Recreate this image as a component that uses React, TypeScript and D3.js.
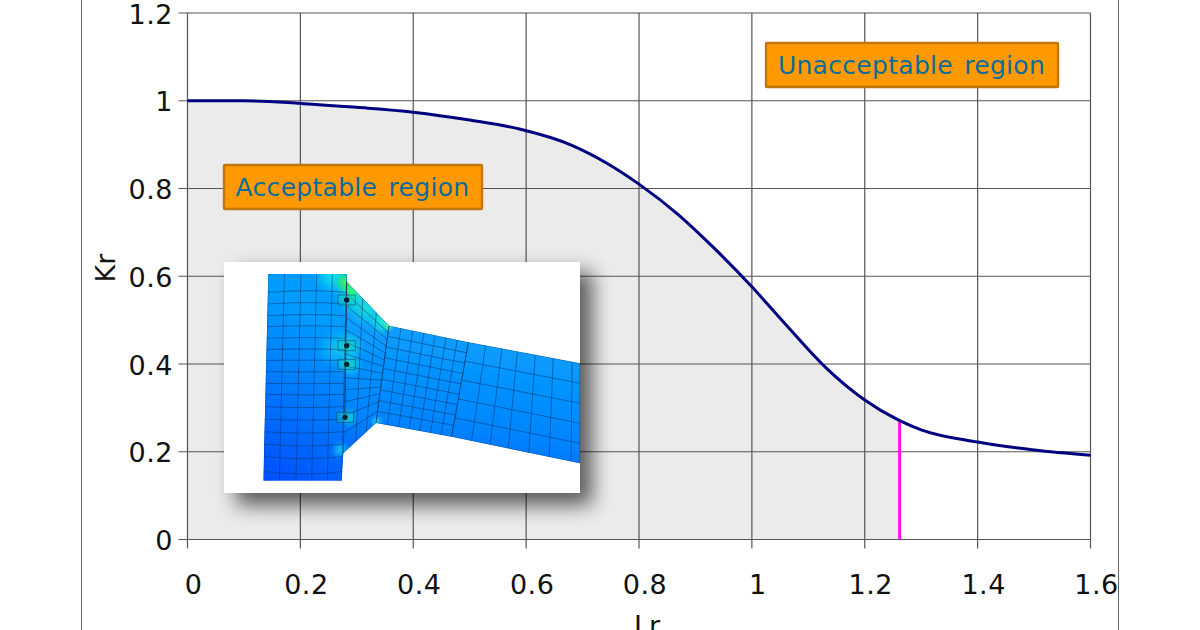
import React from "react";
import * as d3 from "d3";

const W = 1200;
const H = 630;

// curve
const lr = [0, 0.05, 0.1, 0.2, 0.3, 0.4, 0.5, 0.59, 0.68, 0.74, 0.8, 0.87, 0.93, 1.0, 1.06, 1.13, 1.2, 1.26, 1.3, 1.4, 1.5, 1.6];
const kr = [1, 1, 1, 0.994, 0.985, 0.974, 0.956, 0.935, 0.899, 0.86, 0.81, 0.74, 0.668, 0.576, 0.49, 0.393, 0.318, 0.272, 0.25, 0.222, 0.204, 0.192];
const xTicks = [0, 0.2, 0.4, 0.6, 0.8, 1, 1.2, 1.4, 1.6];
const yTicks = [0, 0.2, 0.4, 0.6, 0.8, 1, 1.2];
const limitLr = 1.26;
const limitKr = 0.272;

// inset mesh, in inset pixels x3
type Pt = [number, number];
const outline: Pt[] = [[145, 57], [380, 57], [380, 80], [507, 212], [745, 262], [1080, 325], [1080, 625], [695, 545], [468, 504], [370, 595], [365, 677], [130, 677]];
const blockOutline: Pt[] = [[145, 57], [380, 57], [380, 80], [365, 677], [130, 677]];
const blockCols = [0, 0.205, 0.417, 0.617, 0.817, 1];
const blockRows = [0, 0.089, 0.145, 0.202, 0.255, 0.311, 0.365, 0.418, 0.473, 0.529, 0.582, 0.642, 0.702, 0.763, 0.824, 0.884, 0.956, 1];
const taperCols = [0, 0.38, 0.7, 1];
const taperRows = [0, 0.07, 0.14, 0.21, 0.28, 0.35, 0.42, 0.49, 0.56, 0.63, 0.7, 0.78, 0.88, 1];
const fineCols = [0, 0.15, 0.3, 0.44, 0.58, 0.72, 0.86, 1];
const fineRows = [0, 0.11, 0.22, 0.33, 0.44, 0.55, 0.66, 0.77, 0.88, 1];
const coarseCols = [0, 0.155, 0.3, 0.44, 0.6, 0.76, 0.93, 1];
const coarseRows = [0, 0.2, 0.4, 0.6, 0.8, 1];
const bolts: Pt[] = [[380, 135], [380, 272], [380, 328], [375, 487]];
const glows: [number, number, number, string][] = [
  [340, 62, 60, "#10e8e8"], [400, 120, 60, "#18e8d0"], [440, 160, 55, "#18e8d8"], [485, 200, 42, "#20f0d0"],
  [378, 82, 34, "#40ff30"], [395, 110, 30, "#30ff70"], [505, 212, 18, "#50ff90"],
  [350, 280, 60, "#10c8f0"], [390, 272, 45, "#10d8e0"], [390, 328, 40, "#10d8e0"], [385, 487, 32, "#10c8f0"],
  [362, 585, 30, "#10c8f0"], [470, 500, 20, "#20d8f0"],
];

const x = d3.scaleLinear().domain([0, 1.6]).range([187.5, 1090.5]);
const y = d3.scaleLinear().domain([0, 1.2]).range([539.5, 13]);
const points = lr.map((v, i) => ({ lr: v, kr: kr[i] }));

const line = d3.line<{ lr: number; kr: number }>().x((d) => x(d.lr)).y((d) => y(d.kr)).curve(d3.curveMonotoneX);
const area = d3.area<{ lr: number; kr: number }>().x((d) => x(d.lr)).y0(y(0)).y1((d) => y(d.kr)).curve(d3.curveMonotoneX);

const lerp = (a: Pt, b: Pt, t: number): Pt => [a[0] + (b[0] - a[0]) * t, a[1] + (b[1] - a[1]) * t];

// grid lines of a four corner patch: tl, tr, br, bl
function patch(c: Pt[], cols: number[], rows: number[], bow = 0) {
  const out: string[] = [];
  const [tl, tr, br, bl] = c;
  cols.forEach((u) => {
    const a = lerp(tl, tr, u);
    const b = lerp(bl, br, u);
    out.push(`M${a}L${b}`);
  });
  rows.forEach((v) => {
    const a = lerp(tl, bl, v);
    const b = lerp(tr, br, v);
    const m = lerp(a, b, 0.55);
    const k = bow * (v - 0.45) * 2;
    out.push(`M${a}Q${m[0]},${m[1] + k} ${b}`);
  });
  return out.join("");
}

const meshPath = [
  patch([[145, 57], [380, 57], [365, 677], [130, 677]], blockCols, blockRows, 14),
  patch([[380, 80], [507, 212], [468, 504], [370, 595]], taperCols, taperRows),
  patch([[507, 212], [745, 262], [695, 545], [468, 504]], fineCols, fineRows),
  patch([[745, 262], [1080, 325], [1080, 625], [695, 545]], coarseCols, coarseRows),
].join("");

const font = "'DejaVu Sans', Verdana, sans-serif";

function Badge({ bx, by, bw, bh, text }: { bx: number; by: number; bw: number; bh: number; text: string }) {
  return (
    <g>
      <rect x={bx} y={by} width={bw} height={bh} fill="#ff9900" stroke="#c07608" strokeWidth={2.4} rx={1} />
      <text x={bx + bw / 2 - 0.5} y={by + bh / 2 + 9} textAnchor="middle" fontSize={25} letterSpacing={0.3} wordSpacing={3} fill="#0b6c9c">{text}</text>
    </g>
  );
}

export default function App() {
  return (
    <svg width={W} height={H} viewBox={`0 0 ${W} ${H}`} fontFamily={font} style={{ position: "fixed", left: 0, top: 0, background: "#fff" }}>
      <defs>
        <filter id="shadow" x="-20%" y="-20%" width="140%" height="140%">
          <feGaussianBlur stdDeviation="10" />
        </filter>
        <filter id="soft" x="-5%" y="-5%" width="110%" height="110%">
          <feGaussianBlur stdDeviation="0.5" />
        </filter>
        <linearGradient id="steel" gradientUnits="userSpaceOnUse" x1="500" y1="190" x2="430" y2="680">
          <stop offset="0" stopColor="#0aa0ff" />
          <stop offset="0.6" stopColor="#0084ff" />
          <stop offset="1" stopColor="#0058ff" />
        </linearGradient>
        <linearGradient id="block" gradientUnits="userSpaceOnUse" x1="140" y1="660" x2="380" y2="240">
          <stop offset="0" stopColor="#0050ff" />
          <stop offset="0.5" stopColor="#0078ff" />
          <stop offset="1" stopColor="#009cff" />
        </linearGradient>
        {glows.map((g, i) => (
          <radialGradient id={`glow${i}`} key={i}>
            <stop offset="0" stopColor={g[3]} stopOpacity={0.95} />
            <stop offset="1" stopColor={g[3]} stopOpacity={0} />
          </radialGradient>
        ))}
        <clipPath id="part">
          <path d={`M${outline.join("L")}Z`} />
        </clipPath>
      </defs>

      <line x1={81.5} x2={81.5} y1={0} y2={H} stroke="#666" />
      <line x1={1118.5} x2={1118.5} y1={0} y2={H} stroke="#666" />

      <path d={area(points.filter((d) => d.lr <= limitLr)) ?? ""} fill="#ebebeb" />

      {xTicks.map((t) => (
        <line key={t} x1={x(t)} x2={x(t)} y1={y(1.2)} y2={y(0) + 9} stroke="#555" strokeWidth={1.2} />
      ))}
      {yTicks.map((t) => (
        <line key={t} x1={x(0) - 9} x2={x(1.6)} y1={y(t)} y2={y(t)} stroke="#555" strokeWidth={1.2} />
      ))}
      {xTicks.map((t) => (
        <text key={t} x={x(t) + 6} y={594} textAnchor="middle" fontSize={27} letterSpacing={0.5} fill="#111">{t}</text>
      ))}
      {yTicks.map((t) => (
        <text key={t} x={173} y={y(t) + 10.5} textAnchor="end" fontSize={27} letterSpacing={0.5} fill="#111">{t}</text>
      ))}
      <text x={647} y={635} textAnchor="middle" fontSize={27} fill="#111">Lr</text>
      <text transform="translate(115,268) rotate(-90)" textAnchor="middle" fontSize={27} fill="#111">Kr</text>

      <line x1={x(limitLr) + 1} x2={x(limitLr) + 1} y1={y(0)} y2={y(limitKr)} stroke="#ff10e8" strokeWidth={3} />
      <path d={line(points) ?? ""} fill="none" stroke="#000080" strokeWidth={3} strokeLinejoin="round" />

      <Badge bx={224} by={165} bw={258} bh={44} text="Acceptable region" />
      <Badge bx={766} by={43} bw={292} bh={44} text="Unacceptable region" />

      <rect x={236} y={272} width={356} height={233} fill="#000" opacity={0.62} filter="url(#shadow)" />
      <rect x={224} y={262} width={356} height={231} fill="#fff" />
      <g transform="translate(220,255) scale(0.33333)" filter="url(#soft)">
        <g clipPath="url(#part)">
          <rect x={100} y={40} width={1000} height={660} fill="url(#steel)" />
          <path d={`M${blockOutline.join("L")}Z`} fill="url(#block)" />
          {glows.map((g, i) => (
            <circle key={i} cx={g[0]} cy={g[1]} r={g[2]} fill={`url(#glow${i})`} />
          ))}
          <path d={meshPath} fill="none" stroke="#063a70" strokeWidth={2} opacity={0.8} />
          <path d="M380,80L375,487" fill="none" stroke="#243050" strokeWidth={2.4} />
          {bolts.map((b, i) => (
            <g key={i}>
              <path d={`M${b[0] - 26},${b[1] - 15}h52v30h-52z`} fill="#0cc8c0" fillOpacity={0.35} stroke="#063a60" strokeWidth={1.6} />
              <circle cx={b[0]} cy={b[1]} r={8} fill="#04202c" />
            </g>
          ))}
        </g>
      </g>
    </svg>
  );
}
